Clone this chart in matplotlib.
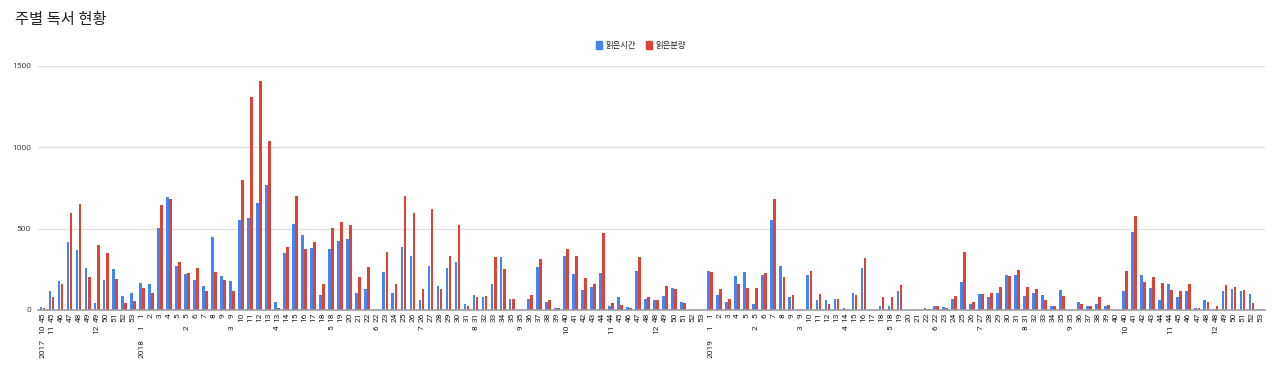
import matplotlib
matplotlib.use("Agg")
import matplotlib.pyplot as plt
from matplotlib.patches import Patch

plt.rcParams["font.family"] = ["Roboto", "Noto Sans CJK KR", "DejaVu Sans"]

TITLE = "주별 독서 현황"
SERIES = ["읽은시간", "읽은분량"]
COLORS = ["#4285F4", "#DB4437"]

# (year, month, weeks in that month)
MONTHS = [
    (2017, 10, [45]),
    (2017, 11, [45, 46, 47, 48, 49]),
    (2017, 12, [49, 50, 51, 52, 53]),
    (2018, 1, [1, 2, 3, 4, 5]),
    (2018, 2, [5, 6, 7, 8, 9]),
    (2018, 3, [9, 10, 11, 12, 13]),
    (2018, 4, [13, 14, 15, 16, 17, 18]),
    (2018, 5, [18, 19, 20, 21, 22]),
    (2018, 6, [22, 23, 24, 25, 26]),
    (2018, 7, [26, 27, 28, 29, 30, 31]),
    (2018, 8, [31, 32, 33, 34, 35]),
    (2018, 9, [35, 36, 37, 38, 39]),
    (2018, 10, [40, 41, 42, 43, 44]),
    (2018, 11, [44, 45, 46, 47, 48]),
    (2018, 12, [48, 49, 50, 51, 52, 53]),
    (2019, 1, [1, 2, 3, 4, 5]),
    (2019, 2, [5, 6, 7, 8, 9]),
    (2019, 3, [9, 10, 11, 12, 13]),
    (2019, 4, [14, 15, 16, 17, 18]),
    (2019, 5, [18, 19, 20, 21, 22]),
    (2019, 6, [22, 23, 24, 25, 26]),
    (2019, 7, [27, 28, 29, 30, 31]),
    (2019, 8, [31, 32, 33, 34, 35]),
    (2019, 9, [35, 36, 37, 38, 39, 40]),
    (2019, 10, [40, 41, 42, 43, 44]),
    (2019, 11, [44, 45, 46, 47, 48]),
    (2019, 12, [48, 49, 50, 51, 52, 53]),
]

read_time = [
    18, 115, 178, 416, 369, 258, 43, 184, 254, 86, 102,
    166, 162, 506, 693, 270, 221, 182, 145, 449, 207,
    178, 555, 563, 660, 768, 47, 348, 527, 463, 383, 90,
    375, 422, 438, 102, 131, 0, 236, 107, 389, 334,
    61, 270, 145, 258, 293, 39, 90, 82, 162, 324, 70,
    0, 70, 266, 51, 10, 332, 221, 123, 139, 229,
    27, 78, 18, 240, 68, 59, 86, 133, 47, 0, 0,
    240, 90, 47, 209, 236, 39, 213, 555, 268, 78, 0,
    217, 59, 59, 70, 10, 102, 256, 0, 27, 27, 119, 0, 0, 10, 27,
    18, 70, 174, 39, 98, 78, 107, 213, 217, 86, 102, 90, 27, 123, 0, 47, 23, 39, 27, 0,
    119, 477, 217, 133, 59, 158, 82, 119, 10, 59, 8, 119, 127, 115, 98, 6,
]

read_amount = [
    10, 82, 160, 596, 652, 201, 398, 348, 193, 43, 55,
    137, 102, 643, 680, 293, 229, 260, 115, 236, 184,
    115, 797, 1307, 1410, 1039, 10, 385, 701, 375, 420, 158,
    506, 541, 522, 201, 264, 0, 357, 160, 701, 596,
    131, 621, 131, 332, 522, 23, 82, 86, 324, 250, 70,
    0, 90, 311, 64, 10, 375, 332, 197, 158, 473,
    43, 31, 10, 324, 78, 59, 145, 129, 43, 0, 0,
    236, 129, 70, 158, 133, 133, 225, 684, 205, 94, 0,
    240, 98, 39, 70, 8, 90, 320, 0, 78, 78, 154, 0, 0, 6, 23,
    14, 86, 354, 51, 98, 107, 141, 209, 248, 141, 129, 59, 23, 86, 0, 35, 27, 82, 31, 0,
    240, 580, 170, 201, 166, 123, 115, 162, 10, 51, 23, 154, 141, 123, 43, 6,
]

W, H = 1280, 373
fig = plt.figure(figsize=(W / 100, H / 100), dpi=100)
ax = fig.add_axes([38 / W, 1 - 310 / H, (1265 - 38) / W, (310 - 66) / H])

n = len(read_time)
x = list(range(n))
bw = 0.3
ax.bar([i - 0.17 for i in x], read_time, width=bw, color=COLORS[0], linewidth=0)
ax.bar([i + 0.17 for i in x], read_amount, width=bw, color=COLORS[1], linewidth=0)

ax.set_xlim(-0.5, n - 0.5)
ax.set_ylim(0, 1500)
ax.set_yticks([0, 500, 1000, 1500])
ax.tick_params(axis="y", length=0, pad=5, labelsize=6, labelcolor="#444444")
ax.set_xticks([])
ax.grid(axis="y", color="#e0e0e0", linewidth=1)
ax.set_axisbelow(True)
for side in ["top", "right", "left"]:
    ax.spines[side].set_visible(False)
ax.spines["bottom"].set_color("#9e9e9e")
ax.spines["bottom"].set_linewidth(1.2)

# multi-level x labels: week / month / year
trans = ax.get_xaxis_transform()
ah = 310 - 66
lab_kw = dict(rotation=90, ha="center", va="top", fontsize=6, color="#222222",
              transform=trans)
i = 0
prev_year = None
for year, month, weeks in MONTHS:
    ax.text(i, -(325 - 310) / ah, str(month), **lab_kw)
    if year != prev_year:
        ax.text(i, -(339 - 310) / ah, str(year), **lab_kw)
        prev_year = year
    for wk in weeks:
        ax.text(i, -(313 - 310) / ah, str(wk), **lab_kw)
        i += 1

fig.text(15 / W, 1 - 20 / H, TITLE, fontsize=11, color="#222222", va="center", ha="left")

handles = [Patch(color=c, label=s) for c, s in zip(COLORS, SERIES)]
fig.legend(handles=handles, loc="center", bbox_to_anchor=(641 / W, 1 - 45 / H), ncol=2,
           frameon=False, fontsize=6, handlelength=0.7, handleheight=1.0,
           handletextpad=0.4, columnspacing=1.2, labelcolor="#222222")

fig.savefig("out.png", dpi=100)
